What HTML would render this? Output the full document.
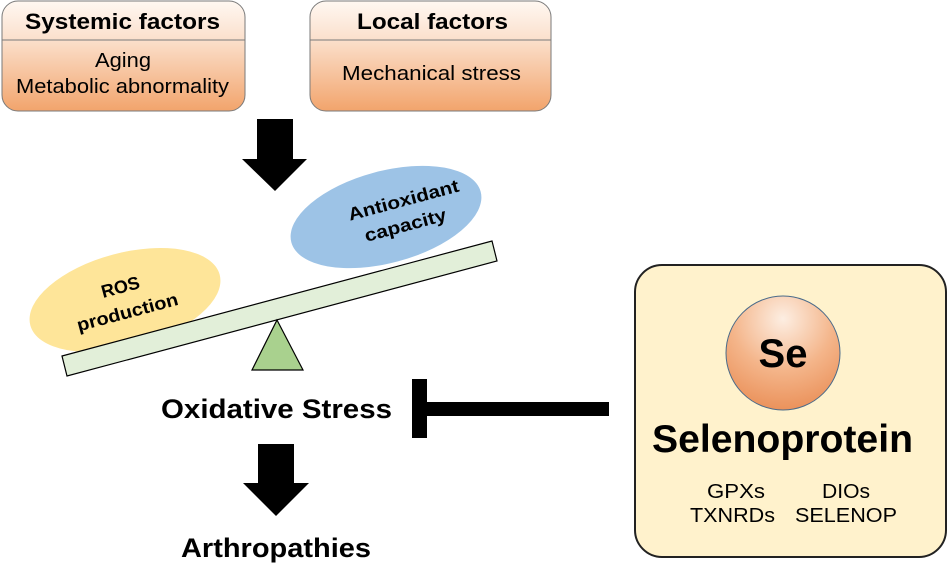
<!DOCTYPE html>
<html><head><meta charset="utf-8"><style>
body{margin:0;background:#fff;width:948px;height:565px;overflow:hidden;font-family:"Liberation Sans",Arial,sans-serif}
</style></head><body>
<svg width="948" height="565" viewBox="0 0 948 565" xmlns="http://www.w3.org/2000/svg" font-family="Liberation Sans, Arial, sans-serif">
<defs>
<linearGradient id="og" x1="0" y1="0" x2="0" y2="1">
<stop offset="0" stop-color="#fff8f2"/><stop offset="0.35" stop-color="#fbe0cc"/><stop offset="1" stop-color="#f2a46c"/></linearGradient>
<radialGradient id="se" cx="0.5" cy="0.2" r="0.9">
<stop offset="0" stop-color="#fdeee2"/><stop offset="0.5" stop-color="#f4b58a"/><stop offset="1" stop-color="#e8884e"/></radialGradient>
</defs>
<rect x="2" y="1" width="243" height="110" rx="16" fill="url(#og)" stroke="#7a7a7a" stroke-width="1"/>
<line x1="2" y1="40" x2="245" y2="40" stroke="#7a7a7a"/>
<text x="25" y="29" font-size="22" font-weight="bold" textLength="195" lengthAdjust="spacingAndGlyphs">Systemic factors</text>
<text x="95" y="67" font-size="20" textLength="56" lengthAdjust="spacingAndGlyphs">Aging</text>
<text x="16" y="93" font-size="20" textLength="213" lengthAdjust="spacingAndGlyphs">Metabolic abnormality</text>
<rect x="310" y="1" width="241" height="110" rx="16" fill="url(#og)" stroke="#7a7a7a" stroke-width="1"/>
<line x1="310" y1="40" x2="551" y2="40" stroke="#7a7a7a"/>
<text x="357" y="29" font-size="22" font-weight="bold" textLength="151" lengthAdjust="spacingAndGlyphs">Local factors</text>
<text x="342" y="80" font-size="20" textLength="179" lengthAdjust="spacingAndGlyphs">Mechanical stress</text>
<polygon points="257,119 293,119 293,159 307,159 275,191 242,159 257,159" fill="#000"/>
<ellipse cx="125" cy="300" rx="98" ry="47" transform="rotate(-15 125 300)" fill="#fee599"/>
<ellipse cx="386" cy="217" rx="98" ry="46" transform="rotate(-15 386 217)" fill="#9dc3e6"/>
<text transform="translate(122,293) rotate(-15)" font-size="18" font-weight="bold" text-anchor="middle">ROS</text>
<text transform="translate(129,318) rotate(-15)" font-size="18" font-weight="bold" text-anchor="middle" textLength="104" lengthAdjust="spacingAndGlyphs">production</text>
<text transform="translate(405,206) rotate(-15)" font-size="18" font-weight="bold" text-anchor="middle" textLength="114" lengthAdjust="spacingAndGlyphs">Antioxidant</text>
<text transform="translate(407,231) rotate(-15)" font-size="18" font-weight="bold" text-anchor="middle" textLength="84" lengthAdjust="spacingAndGlyphs">capacity</text>
<polygon points="62,356 492,241 497,261 67,376" fill="#e2efd9" stroke="#000" stroke-width="1.2"/>
<polygon points="277,320 303,370 252,370" fill="#a9d18e" stroke="#000" stroke-width="1.2"/>
<text x="161" y="418" font-size="27" font-weight="bold" textLength="231" lengthAdjust="spacingAndGlyphs">Oxidative Stress</text>
<rect x="412" y="379" width="15" height="59" fill="#000"/>
<rect x="427" y="402" width="182" height="14" fill="#000"/>
<polygon points="258,444 294,444 294,483 309,483 276,516 243,483 258,483" fill="#000"/>
<text x="181" y="557" font-size="27" font-weight="bold" textLength="190" lengthAdjust="spacingAndGlyphs">Arthropathies</text>
<rect x="635" y="265" width="311" height="292" rx="27" fill="#fff2cc" stroke="#222" stroke-width="2"/>
<circle cx="783" cy="353" r="57" fill="url(#se)" stroke="#4a6b8a" stroke-width="1"/>
<text x="783" y="367" font-size="40" font-weight="bold" text-anchor="middle">Se</text>
<text x="652" y="452" font-size="39" font-weight="bold" textLength="261" lengthAdjust="spacingAndGlyphs">Selenoprotein</text>
<text x="707" y="498" font-size="20" textLength="58" lengthAdjust="spacingAndGlyphs">GPXs</text>
<text x="690" y="522" font-size="20" textLength="85" lengthAdjust="spacingAndGlyphs">TXNRDs</text>
<text x="822" y="498" font-size="20" textLength="48" lengthAdjust="spacingAndGlyphs">DIOs</text>
<text x="795" y="522" font-size="20" textLength="102" lengthAdjust="spacingAndGlyphs">SELENOP</text>
</svg>
</body></html>
